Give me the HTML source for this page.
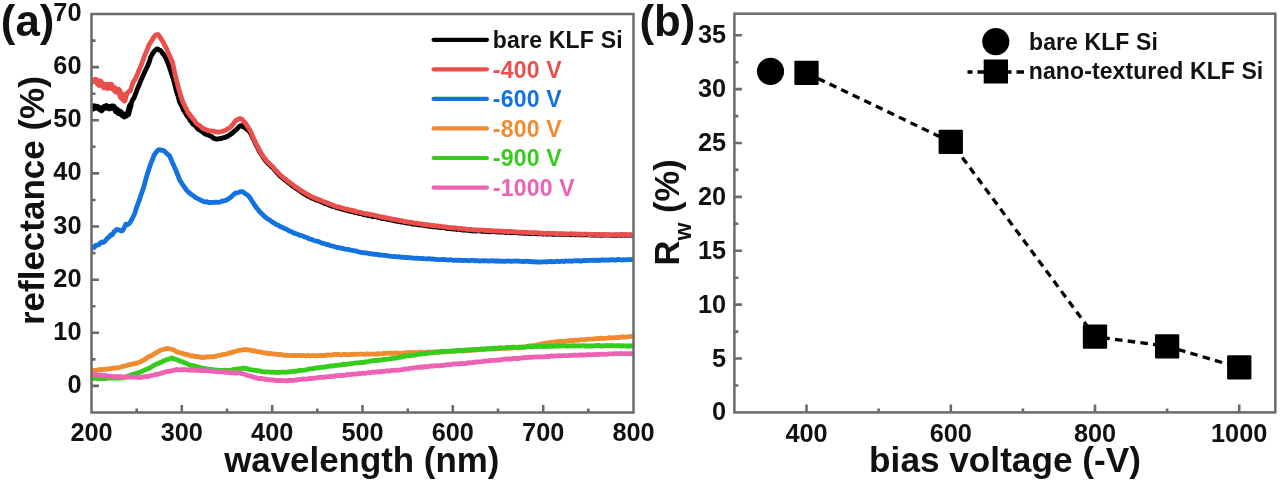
<!DOCTYPE html>
<html><head><meta charset="utf-8"><style>
html,body{margin:0;padding:0;background:#fff;overflow:hidden;}
svg{display:block;filter:blur(0.6px);}
text{font-family:"Liberation Sans",sans-serif;font-weight:bold;}
</style></head><body>
<svg width="1280" height="483" viewBox="0 0 1280 483">
<rect width="1280" height="483" fill="#fff"/>
<defs><clipPath id="ca"><rect x="91.5" y="14.0" width="542.0" height="398.5"/></clipPath></defs>
<g clip-path="url(#ca)" fill="none" stroke-linejoin="round" stroke-linecap="round">
<path d="M91.4 370.6 L92.9 370.7 L94.4 370.4 L95.9 370.3 L97.4 370.2 L98.9 369.7 L100.4 369.5 L101.9 369.8 L103.4 369.3 L104.9 369.1 L106.4 369.4 L107.9 368.9 L109.4 368.9 L110.9 368.5 L112.4 368.4 L113.9 367.9 L115.4 368.0 L116.9 368.0 L118.4 367.6 L119.9 367.4 L121.4 367.0 L122.9 366.2 L124.4 366.2 L125.9 365.7 L127.4 365.2 L128.9 364.6 L130.4 364.7 L131.9 364.1 L133.4 363.8 L134.9 363.6 L136.4 363.1 L137.9 362.8 L139.4 362.1 L140.9 361.7 L142.4 360.6 L143.9 360.0 L145.4 359.1 L146.9 357.8 L148.4 357.0 L149.9 356.2 L151.4 355.9 L152.9 354.7 L154.4 353.9 L155.9 352.8 L157.4 352.1 L158.9 351.1 L160.4 350.3 L161.9 349.9 L163.4 349.5 L164.9 349.2 L166.4 348.6 L167.9 348.5 L169.4 348.8 L170.9 349.2 L172.4 349.5 L173.9 349.9 L175.4 351.1 L176.9 351.9 L178.4 352.4 L179.9 352.7 L181.4 353.2 L182.9 353.3 L184.4 354.1 L185.9 354.4 L187.4 354.7 L188.9 355.0 L190.4 355.9 L191.9 356.2 L193.4 355.9 L194.9 356.5 L196.4 356.5 L197.9 356.6 L199.4 356.9 L200.9 357.4 L202.4 357.7 L203.9 357.1 L205.4 357.3 L206.9 356.8 L208.4 357.1 L209.9 356.7 L211.4 356.9 L212.9 356.8 L214.4 356.4 L215.9 356.4 L217.4 355.7 L218.9 355.3 L220.4 355.3 L221.9 354.6 L223.4 354.4 L224.9 354.3 L226.4 354.1 L227.9 353.5 L229.4 352.9 L230.9 352.9 L232.4 352.1 L233.9 352.0 L235.4 351.4 L236.9 350.8 L238.4 350.5 L239.9 350.3 L241.4 350.1 L242.9 349.8 L244.4 349.5 L245.9 349.6 L247.4 350.0 L248.9 350.0 L250.4 350.2 L251.9 350.6 L253.4 350.6 L254.9 351.0 L256.4 351.7 L257.9 351.7 L259.4 352.0 L260.9 352.0 L262.4 352.5 L263.9 352.9 L265.4 352.9 L266.9 353.4 L268.4 353.5 L269.9 353.3 L271.4 353.8 L272.9 353.9 L274.4 354.2 L275.9 354.1 L277.4 354.5 L278.9 354.7 L280.4 354.4 L281.9 354.6 L283.4 355.1 L284.9 355.4 L286.4 355.1 L287.9 355.4 L289.4 355.6 L290.9 355.5 L292.4 355.5 L293.9 355.5 L295.4 355.5 L296.9 355.7 L298.4 355.5 L299.9 355.5 L301.4 355.8 L302.9 355.3 L304.4 355.7 L305.9 355.8 L307.4 355.6 L308.9 355.5 L310.4 355.9 L311.9 355.6 L313.4 355.6 L314.9 355.7 L316.4 355.9 L317.9 355.6 L319.4 355.6 L320.9 355.5 L322.4 355.7 L323.9 355.4 L325.4 355.5 L326.9 355.0 L328.4 355.0 L329.9 355.1 L331.4 355.1 L332.9 354.7 L334.4 354.5 L335.9 354.4 L337.4 354.7 L338.9 354.4 L340.4 354.8 L341.9 354.8 L343.4 354.4 L344.9 354.4 L346.4 354.7 L347.9 354.6 L349.4 354.6 L350.9 354.3 L352.4 354.2 L353.9 354.3 L355.4 354.5 L356.9 354.2 L358.4 354.2 L359.9 354.2 L361.4 354.2 L362.9 354.2 L364.4 354.5 L365.9 354.0 L367.4 353.8 L368.9 354.3 L370.4 354.2 L371.9 354.2 L373.4 353.9 L374.9 354.1 L376.4 354.1 L377.9 353.6 L379.4 353.8 L380.9 353.8 L382.4 353.7 L383.9 353.5 L385.4 353.3 L386.9 353.3 L388.4 353.2 L389.9 353.1 L391.4 353.3 L392.9 353.1 L394.4 353.3 L395.9 352.8 L397.4 353.3 L398.9 353.1 L400.4 353.2 L401.9 353.2 L403.4 353.1 L404.9 352.9 L406.4 352.5 L407.9 352.9 L409.4 352.5 L410.9 352.5 L412.4 352.7 L413.9 352.6 L415.4 352.5 L416.9 352.8 L418.4 352.5 L419.9 352.3 L421.4 352.2 L422.9 352.5 L424.4 352.3 L425.9 352.4 L427.4 352.1 L428.9 352.0 L430.4 352.1 L431.9 352.3 L433.4 351.9 L434.9 352.2 L436.4 352.2 L437.9 352.1 L439.4 352.1 L440.9 351.6 L442.4 351.9 L443.9 351.9 L445.4 351.4 L446.9 351.4 L448.4 351.4 L449.9 351.4 L451.4 351.3 L452.9 351.3 L454.4 351.4 L455.9 350.8 L457.4 350.8 L458.9 350.8 L460.4 350.7 L461.9 350.6 L463.4 351.1 L464.9 350.9 L466.4 350.3 L467.9 350.5 L469.4 350.3 L470.9 350.2 L472.4 350.1 L473.9 350.2 L475.4 350.0 L476.9 349.8 L478.4 349.6 L479.9 349.6 L481.4 349.4 L482.9 349.5 L484.4 349.5 L485.9 349.2 L487.4 348.9 L488.9 348.9 L490.4 348.9 L491.9 349.0 L493.4 349.0 L494.9 348.6 L496.4 348.8 L497.9 348.6 L499.4 348.5 L500.9 348.4 L502.4 348.4 L503.9 348.4 L505.4 348.2 L506.9 348.3 L508.4 348.1 L509.9 347.9 L511.4 348.0 L512.9 348.0 L514.4 347.6 L515.9 347.7 L517.4 347.7 L518.9 347.9 L520.4 347.8 L521.9 347.2 L523.4 347.3 L524.9 347.0 L526.4 346.4 L527.9 346.3 L529.4 345.9 L530.9 346.0 L532.4 345.7 L533.9 345.6 L535.4 345.3 L536.9 344.9 L538.4 344.7 L539.9 344.3 L541.4 343.8 L542.9 343.8 L544.4 343.2 L545.9 343.1 L547.4 343.2 L548.9 342.6 L550.4 342.4 L551.9 342.3 L553.4 342.5 L554.9 341.9 L556.4 341.6 L557.9 341.9 L559.4 341.3 L560.9 341.5 L562.4 341.3 L563.9 341.3 L565.4 341.3 L566.9 340.9 L568.4 340.9 L569.9 340.4 L571.4 340.7 L572.9 340.4 L574.4 340.5 L575.9 340.0 L577.4 340.3 L578.9 340.3 L580.4 339.6 L581.9 339.7 L583.4 339.7 L584.9 339.8 L586.4 339.3 L587.9 339.2 L589.4 339.1 L590.9 339.2 L592.4 339.2 L593.9 338.8 L595.4 338.7 L596.9 338.7 L598.4 338.5 L599.9 338.5 L601.4 338.2 L602.9 338.3 L604.4 338.5 L605.9 338.1 L607.4 338.2 L608.9 337.7 L610.4 338.0 L611.9 337.9 L613.4 337.8 L614.9 337.6 L616.4 337.5 L617.9 337.5 L619.4 337.5 L620.9 337.0 L622.4 336.8 L623.9 337.1 L625.4 337.1 L626.9 336.8 L628.4 336.7 L629.9 336.7 L631.4 336.3 L632.9 336.3" stroke="#f08c30" stroke-width="4.8"/>
<path d="M91.4 378.2 L92.9 378.5 L94.4 378.3 L95.9 378.2 L97.4 378.5 L98.9 378.7 L100.4 378.3 L101.9 378.5 L103.4 378.3 L104.9 378.6 L106.4 378.4 L107.9 378.2 L109.4 378.1 L110.9 377.9 L112.4 378.2 L113.9 378.1 L115.4 377.9 L116.9 378.0 L118.4 377.9 L119.9 378.1 L121.4 377.6 L122.9 378.0 L124.4 377.5 L125.9 377.1 L127.4 376.4 L128.9 375.9 L130.4 375.3 L131.9 374.6 L133.4 374.1 L134.9 373.8 L136.4 373.4 L137.9 372.7 L139.4 372.5 L140.9 372.1 L142.4 371.1 L143.9 370.3 L145.4 369.6 L146.9 369.2 L148.4 368.5 L149.9 367.9 L151.4 367.0 L152.9 365.8 L154.4 365.1 L155.9 364.4 L157.4 363.6 L158.9 363.2 L160.4 362.5 L161.9 361.9 L163.4 360.8 L164.9 360.5 L166.4 359.7 L167.9 359.3 L169.4 359.0 L170.9 358.2 L172.4 358.0 L173.9 359.0 L175.4 359.2 L176.9 359.7 L178.4 360.4 L179.9 361.1 L181.4 361.3 L182.9 362.1 L184.4 362.7 L185.9 363.4 L187.4 363.8 L188.9 364.6 L190.4 365.4 L191.9 365.4 L193.4 365.9 L194.9 366.0 L196.4 366.5 L197.9 367.1 L199.4 367.1 L200.9 367.9 L202.4 368.3 L203.9 368.1 L205.4 368.8 L206.9 368.7 L208.4 369.2 L209.9 369.4 L211.4 369.3 L212.9 369.8 L214.4 370.0 L215.9 370.2 L217.4 370.0 L218.9 370.3 L220.4 370.5 L221.9 370.4 L223.4 370.4 L224.9 370.2 L226.4 370.5 L227.9 370.4 L229.4 370.4 L230.9 370.2 L232.4 369.9 L233.9 369.4 L235.4 369.4 L236.9 369.2 L238.4 368.7 L239.9 368.9 L241.4 368.5 L242.9 368.0 L244.4 368.5 L245.9 368.3 L247.4 368.8 L248.9 369.3 L250.4 369.6 L251.9 369.9 L253.4 370.2 L254.9 370.3 L256.4 370.5 L257.9 370.6 L259.4 370.8 L260.9 371.4 L262.4 371.7 L263.9 371.8 L265.4 372.1 L266.9 371.9 L268.4 371.9 L269.9 372.1 L271.4 372.4 L272.9 372.0 L274.4 372.4 L275.9 372.3 L277.4 372.7 L278.9 372.3 L280.4 372.3 L281.9 372.2 L283.4 372.2 L284.9 372.3 L286.4 372.0 L287.9 372.2 L289.4 371.7 L290.9 371.6 L292.4 371.3 L293.9 371.2 L295.4 371.4 L296.9 371.1 L298.4 370.6 L299.9 370.4 L301.4 370.3 L302.9 370.3 L304.4 370.1 L305.9 369.8 L307.4 369.5 L308.9 369.0 L310.4 368.9 L311.9 368.6 L313.4 368.5 L314.9 368.3 L316.4 367.9 L317.9 367.7 L319.4 367.8 L320.9 367.1 L322.4 367.4 L323.9 367.2 L325.4 367.1 L326.9 366.5 L328.4 366.4 L329.9 366.2 L331.4 366.0 L332.9 366.0 L334.4 365.7 L335.9 365.3 L337.4 365.4 L338.9 365.0 L340.4 364.9 L341.9 364.8 L343.4 364.2 L344.9 364.5 L346.4 364.3 L347.9 364.0 L349.4 363.8 L350.9 363.6 L352.4 363.3 L353.9 363.3 L355.4 362.8 L356.9 362.9 L358.4 362.9 L359.9 362.6 L361.4 362.5 L362.9 362.5 L364.4 362.3 L365.9 361.7 L367.4 361.9 L368.9 361.5 L370.4 361.0 L371.9 361.0 L373.4 360.7 L374.9 360.4 L376.4 360.5 L377.9 360.5 L379.4 359.9 L380.9 360.1 L382.4 359.8 L383.9 359.2 L385.4 359.5 L386.9 359.1 L388.4 359.1 L389.9 358.8 L391.4 358.6 L392.9 358.1 L394.4 358.2 L395.9 358.1 L397.4 357.8 L398.9 357.3 L400.4 357.3 L401.9 356.9 L403.4 356.4 L404.9 356.2 L406.4 355.9 L407.9 355.8 L409.4 355.5 L410.9 355.5 L412.4 355.4 L413.9 355.1 L415.4 354.8 L416.9 354.7 L418.4 354.2 L419.9 354.1 L421.4 354.1 L422.9 353.7 L424.4 353.4 L425.9 353.7 L427.4 353.4 L428.9 353.0 L430.4 352.9 L431.9 352.8 L433.4 352.7 L434.9 352.3 L436.4 352.0 L437.9 352.0 L439.4 352.1 L440.9 351.6 L442.4 351.7 L443.9 351.5 L445.4 351.4 L446.9 351.3 L448.4 351.3 L449.9 351.1 L451.4 350.9 L452.9 350.8 L454.4 350.8 L455.9 350.9 L457.4 350.5 L458.9 350.4 L460.4 350.5 L461.9 350.4 L463.4 350.5 L464.9 350.0 L466.4 350.1 L467.9 350.0 L469.4 349.7 L470.9 350.1 L472.4 349.6 L473.9 349.4 L475.4 349.6 L476.9 349.3 L478.4 349.4 L479.9 349.2 L481.4 348.9 L482.9 348.8 L484.4 349.1 L485.9 348.7 L487.4 348.9 L488.9 348.6 L490.4 348.8 L491.9 348.3 L493.4 348.2 L494.9 348.1 L496.4 348.4 L497.9 348.2 L499.4 347.9 L500.9 347.7 L502.4 348.0 L503.9 348.1 L505.4 347.8 L506.9 347.4 L508.4 347.3 L509.9 347.3 L511.4 347.3 L512.9 347.1 L514.4 347.1 L515.9 347.4 L517.4 347.5 L518.9 347.0 L520.4 347.4 L521.9 347.0 L523.4 347.1 L524.9 347.1 L526.4 347.1 L527.9 346.5 L529.4 346.6 L530.9 346.7 L532.4 346.9 L533.9 346.3 L535.4 346.4 L536.9 346.7 L538.4 346.2 L539.9 346.4 L541.4 346.3 L542.9 346.5 L544.4 346.6 L545.9 346.1 L547.4 346.4 L548.9 346.3 L550.4 346.4 L551.9 346.2 L553.4 346.4 L554.9 346.0 L556.4 346.0 L557.9 345.8 L559.4 346.1 L560.9 345.9 L562.4 345.8 L563.9 345.7 L565.4 346.0 L566.9 345.9 L568.4 346.0 L569.9 345.8 L571.4 345.9 L572.9 345.7 L574.4 346.0 L575.9 345.6 L577.4 345.8 L578.9 346.0 L580.4 345.9 L581.9 345.6 L583.4 345.7 L584.9 346.0 L586.4 345.9 L587.9 346.0 L589.4 346.0 L590.9 345.8 L592.4 346.0 L593.9 345.9 L595.4 345.7 L596.9 345.7 L598.4 345.5 L599.9 345.7 L601.4 346.1 L602.9 345.6 L604.4 345.8 L605.9 345.6 L607.4 345.5 L608.9 345.9 L610.4 345.6 L611.9 345.5 L613.4 345.6 L614.9 345.9 L616.4 345.9 L617.9 345.5 L619.4 345.6 L620.9 346.1 L622.4 345.6 L623.9 345.8 L625.4 345.8 L626.9 346.0 L628.4 345.9 L629.9 346.0 L631.4 345.8 L632.9 345.6" stroke="#36cc1c" stroke-width="4.8"/>
<path d="M91.4 374.0 L92.9 374.1 L94.4 374.7 L95.9 374.5 L97.4 374.6 L98.9 375.3 L100.4 375.1 L101.9 375.6 L103.4 375.3 L104.9 375.7 L106.4 375.7 L107.9 376.1 L109.4 376.1 L110.9 376.2 L112.4 376.4 L113.9 376.6 L115.4 376.4 L116.9 376.6 L118.4 376.6 L119.9 376.5 L121.4 377.0 L122.9 376.9 L124.4 377.0 L125.9 376.7 L127.4 377.0 L128.9 377.0 L130.4 377.2 L131.9 376.8 L133.4 377.0 L134.9 377.2 L136.4 377.0 L137.9 377.4 L139.4 377.6 L140.9 377.3 L142.4 377.2 L143.9 377.0 L145.4 376.5 L146.9 376.4 L148.4 376.5 L149.9 375.9 L151.4 375.7 L152.9 375.2 L154.4 374.9 L155.9 374.4 L157.4 374.4 L158.9 373.8 L160.4 373.5 L161.9 373.1 L163.4 372.4 L164.9 372.2 L166.4 371.6 L167.9 371.3 L169.4 371.3 L170.9 371.0 L172.4 370.7 L173.9 370.1 L175.4 370.0 L176.9 369.5 L178.4 369.7 L179.9 369.8 L181.4 369.5 L182.9 369.9 L184.4 369.5 L185.9 369.6 L187.4 370.0 L188.9 369.8 L190.4 370.0 L191.9 370.2 L193.4 369.9 L194.9 370.4 L196.4 370.2 L197.9 370.3 L199.4 370.4 L200.9 370.7 L202.4 370.7 L203.9 370.6 L205.4 370.5 L206.9 370.7 L208.4 370.9 L209.9 370.8 L211.4 370.9 L212.9 371.3 L214.4 371.4 L215.9 371.7 L217.4 371.8 L218.9 371.9 L220.4 371.7 L221.9 371.8 L223.4 372.0 L224.9 372.2 L226.4 372.4 L227.9 372.5 L229.4 372.5 L230.9 372.9 L232.4 372.6 L233.9 372.8 L235.4 373.1 L236.9 373.1 L238.4 372.9 L239.9 372.9 L241.4 373.7 L242.9 373.7 L244.4 374.2 L245.9 374.9 L247.4 375.4 L248.9 375.6 L250.4 376.0 L251.9 376.5 L253.4 377.2 L254.9 377.4 L256.4 378.0 L257.9 378.2 L259.4 378.6 L260.9 378.3 L262.4 378.7 L263.9 378.9 L265.4 379.4 L266.9 379.5 L268.4 379.5 L269.9 379.9 L271.4 379.8 L272.9 380.0 L274.4 380.2 L275.9 380.6 L277.4 380.5 L278.9 380.5 L280.4 380.3 L281.9 380.6 L283.4 380.7 L284.9 380.7 L286.4 380.8 L287.9 380.8 L289.4 380.4 L290.9 380.3 L292.4 380.5 L293.9 380.3 L295.4 380.0 L296.9 380.0 L298.4 379.6 L299.9 379.3 L301.4 379.1 L302.9 378.8 L304.4 379.1 L305.9 379.1 L307.4 378.9 L308.9 378.5 L310.4 378.5 L311.9 378.5 L313.4 378.3 L314.9 378.1 L316.4 377.8 L317.9 377.7 L319.4 377.4 L320.9 377.2 L322.4 377.4 L323.9 377.4 L325.4 377.0 L326.9 376.8 L328.4 376.6 L329.9 376.5 L331.4 376.5 L332.9 376.2 L334.4 376.3 L335.9 375.7 L337.4 375.6 L338.9 375.6 L340.4 375.4 L341.9 375.5 L343.4 375.4 L344.9 375.3 L346.4 374.9 L347.9 374.4 L349.4 374.6 L350.9 374.4 L352.4 374.3 L353.9 374.0 L355.4 374.1 L356.9 374.1 L358.4 373.4 L359.9 373.6 L361.4 373.3 L362.9 373.2 L364.4 373.3 L365.9 373.2 L367.4 372.9 L368.9 372.5 L370.4 372.8 L371.9 372.2 L373.4 372.2 L374.9 372.3 L376.4 371.9 L377.9 371.7 L379.4 372.0 L380.9 371.9 L382.4 371.4 L383.9 371.3 L385.4 371.1 L386.9 370.9 L388.4 370.8 L389.9 371.1 L391.4 370.4 L392.9 370.4 L394.4 370.3 L395.9 370.1 L397.4 370.1 L398.9 370.1 L400.4 369.9 L401.9 369.6 L403.4 369.5 L404.9 368.9 L406.4 368.8 L407.9 369.0 L409.4 368.3 L410.9 368.2 L412.4 368.2 L413.9 367.8 L415.4 367.8 L416.9 367.3 L418.4 367.2 L419.9 367.5 L421.4 366.9 L422.9 367.2 L424.4 366.6 L425.9 367.0 L427.4 366.7 L428.9 366.5 L430.4 366.1 L431.9 365.9 L433.4 366.2 L434.9 365.7 L436.4 365.6 L437.9 365.9 L439.4 365.8 L440.9 365.2 L442.4 365.6 L443.9 365.2 L445.4 365.0 L446.9 364.7 L448.4 364.7 L449.9 364.9 L451.4 364.4 L452.9 364.2 L454.4 364.0 L455.9 363.9 L457.4 363.9 L458.9 364.1 L460.4 363.5 L461.9 363.4 L463.4 363.7 L464.9 363.6 L466.4 363.4 L467.9 362.8 L469.4 362.7 L470.9 362.9 L472.4 362.5 L473.9 362.5 L475.4 362.1 L476.9 361.7 L478.4 361.8 L479.9 361.8 L481.4 361.7 L482.9 361.4 L484.4 361.2 L485.9 361.1 L487.4 360.8 L488.9 360.7 L490.4 360.8 L491.9 360.3 L493.4 360.4 L494.9 360.4 L496.4 360.3 L497.9 359.7 L499.4 360.1 L500.9 359.9 L502.4 359.4 L503.9 359.3 L505.4 359.1 L506.9 358.9 L508.4 359.3 L509.9 358.9 L511.4 359.0 L512.9 358.4 L514.4 358.3 L515.9 358.6 L517.4 358.5 L518.9 358.5 L520.4 358.2 L521.9 357.9 L523.4 357.9 L524.9 357.4 L526.4 357.6 L527.9 357.4 L529.4 357.1 L530.9 357.3 L532.4 357.1 L533.9 357.1 L535.4 356.9 L536.9 356.8 L538.4 356.8 L539.9 356.8 L541.4 357.0 L542.9 356.9 L544.4 356.8 L545.9 356.7 L547.4 356.3 L548.9 356.6 L550.4 356.1 L551.9 355.9 L553.4 356.1 L554.9 356.2 L556.4 355.8 L557.9 355.9 L559.4 355.7 L560.9 356.0 L562.4 355.6 L563.9 355.6 L565.4 355.6 L566.9 355.7 L568.4 355.7 L569.9 355.4 L571.4 355.3 L572.9 355.3 L574.4 355.0 L575.9 355.1 L577.4 355.3 L578.9 355.2 L580.4 354.7 L581.9 355.2 L583.4 354.8 L584.9 355.1 L586.4 354.7 L587.9 354.6 L589.4 354.7 L590.9 354.8 L592.4 354.5 L593.9 354.7 L595.4 354.6 L596.9 354.3 L598.4 354.2 L599.9 354.3 L601.4 354.2 L602.9 354.1 L604.4 354.3 L605.9 354.4 L607.4 354.1 L608.9 353.8 L610.4 353.8 L611.9 353.9 L613.4 354.0 L614.9 353.6 L616.4 353.6 L617.9 353.7 L619.4 353.6 L620.9 353.4 L622.4 353.6 L623.9 353.8 L625.4 353.6 L626.9 353.6 L628.4 353.6 L629.9 353.6 L631.4 353.6 L632.9 353.3" stroke="#ee62b4" stroke-width="4.8"/>
<path d="M91.3 248.8 L92.8 246.8 L94.3 247.4 L95.8 245.5 L97.3 244.8 L98.8 244.8 L100.3 242.9 L101.8 242.0 L103.3 242.5 L104.8 241.3 L106.3 239.5 L107.8 237.8 L109.3 236.9 L110.8 234.7 L112.3 234.9 L113.8 232.1 L115.3 230.7 L116.8 229.5 L118.3 230.0 L119.8 230.2 L121.3 231.0 L122.8 230.5 L124.3 227.5 L125.8 224.2 L127.3 224.8 L128.8 223.8 L130.3 222.1 L131.8 219.5 L133.3 216.5 L134.8 213.3 L136.3 208.2 L137.8 204.2 L139.3 200.2 L140.8 195.6 L142.3 191.3 L143.8 186.7 L145.3 181.2 L146.8 176.0 L148.3 170.9 L149.8 166.4 L151.3 162.3 L152.8 158.6 L154.3 154.7 L155.8 152.8 L157.3 150.7 L158.8 149.7 L160.3 149.9 L161.8 150.4 L163.3 150.5 L164.8 151.5 L166.3 152.9 L167.8 154.5 L169.3 155.5 L170.8 158.6 L172.3 162.4 L173.8 165.6 L175.3 169.0 L176.8 172.5 L178.3 176.3 L179.8 180.3 L181.3 182.4 L182.8 184.8 L184.3 187.0 L185.8 189.0 L187.3 191.1 L188.8 192.4 L190.3 193.6 L191.8 194.8 L193.3 195.7 L194.8 196.9 L196.3 197.9 L197.8 198.6 L199.3 199.3 L200.8 200.4 L202.3 200.8 L203.8 201.6 L205.3 202.0 L206.8 201.7 L208.3 202.5 L209.8 202.4 L211.3 202.5 L212.8 202.4 L214.3 202.2 L215.8 202.4 L217.3 202.2 L218.8 202.3 L220.3 202.0 L221.8 201.2 L223.3 201.0 L224.8 200.6 L226.3 200.1 L227.8 199.4 L229.3 198.2 L230.8 197.2 L232.3 195.8 L233.8 194.4 L235.3 193.2 L236.8 192.9 L238.3 192.5 L239.8 191.9 L241.3 191.7 L242.8 191.7 L244.3 193.0 L245.8 194.0 L247.3 194.8 L248.8 196.2 L250.3 198.3 L251.8 200.7 L253.3 203.1 L254.8 205.4 L256.3 207.6 L257.8 209.3 L259.3 211.3 L260.8 212.9 L262.3 214.2 L263.8 215.8 L265.3 217.1 L266.8 218.4 L268.3 219.3 L269.8 220.0 L271.3 221.3 L272.8 222.4 L274.3 223.0 L275.8 224.4 L277.3 224.8 L278.8 225.5 L280.3 226.6 L281.8 227.1 L283.3 228.0 L284.8 228.6 L286.3 229.1 L287.8 230.0 L289.3 231.0 L290.8 231.5 L292.3 232.2 L293.8 233.1 L295.3 233.4 L296.8 234.0 L298.3 234.6 L299.8 235.3 L301.3 235.5 L302.8 236.0 L304.3 236.9 L305.8 237.3 L307.3 237.7 L308.8 238.6 L310.3 239.1 L311.8 239.5 L313.3 240.2 L314.8 240.7 L316.3 241.2 L317.8 241.4 L319.3 241.8 L320.8 242.7 L322.3 243.2 L323.8 243.5 L325.3 244.0 L326.8 244.5 L328.3 244.7 L329.8 245.5 L331.3 245.8 L332.8 246.2 L334.3 246.5 L335.8 247.2 L337.3 247.4 L338.8 247.9 L340.3 247.9 L341.8 248.4 L343.3 248.5 L344.8 249.0 L346.3 249.4 L347.8 249.4 L349.3 249.7 L350.8 250.2 L352.3 250.4 L353.8 250.8 L355.3 250.9 L356.8 251.2 L358.3 251.7 L359.8 252.2 L361.3 252.5 L362.8 252.6 L364.3 252.8 L365.8 252.8 L367.3 253.1 L368.8 253.3 L370.3 253.9 L371.8 253.6 L373.3 254.3 L374.8 254.2 L376.3 254.4 L377.8 254.5 L379.3 255.1 L380.8 254.8 L382.3 255.2 L383.8 255.4 L385.3 255.3 L386.8 255.5 L388.3 256.2 L389.8 256.2 L391.3 256.4 L392.8 256.7 L394.3 256.3 L395.8 256.8 L397.3 256.9 L398.8 256.7 L400.3 257.0 L401.8 257.4 L403.3 257.1 L404.8 257.5 L406.3 257.3 L407.8 257.7 L409.3 257.6 L410.8 257.8 L412.3 257.8 L413.8 258.2 L415.3 258.3 L416.8 258.2 L418.3 258.4 L419.8 258.4 L421.3 258.7 L422.8 258.5 L424.3 258.7 L425.8 258.8 L427.3 258.8 L428.8 258.6 L430.3 258.8 L431.8 259.1 L433.3 259.0 L434.8 259.4 L436.3 259.3 L437.8 259.6 L439.3 259.6 L440.8 259.6 L442.3 259.5 L443.8 259.4 L445.3 259.7 L446.8 259.9 L448.3 260.1 L449.8 259.7 L451.3 259.8 L452.8 260.3 L454.3 260.3 L455.8 260.2 L457.3 260.4 L458.8 260.1 L460.3 260.4 L461.8 260.5 L463.3 260.5 L464.8 260.3 L466.3 260.3 L467.8 260.6 L469.3 260.8 L470.8 260.4 L472.3 260.4 L473.8 260.4 L475.3 260.9 L476.8 260.7 L478.3 260.7 L479.8 261.1 L481.3 260.9 L482.8 260.7 L484.3 261.0 L485.8 260.6 L487.3 260.8 L488.8 261.1 L490.3 260.8 L491.8 260.7 L493.3 261.0 L494.8 260.9 L496.3 261.3 L497.8 260.8 L499.3 261.3 L500.8 261.0 L502.3 261.3 L503.8 261.1 L505.3 261.3 L506.8 261.1 L508.3 261.0 L509.8 261.2 L511.3 261.4 L512.8 261.1 L514.3 261.1 L515.8 261.2 L517.3 261.0 L518.8 261.2 L520.3 261.4 L521.8 261.4 L523.3 261.5 L524.8 261.3 L526.3 261.2 L527.8 261.3 L529.3 261.5 L530.8 261.5 L532.3 261.8 L533.8 261.6 L535.3 262.0 L536.8 261.9 L538.3 262.0 L539.8 262.1 L541.3 262.0 L542.8 261.9 L544.3 261.8 L545.8 261.6 L547.3 262.0 L548.8 261.7 L550.3 261.4 L551.8 261.9 L553.3 261.6 L554.8 261.6 L556.3 261.5 L557.8 261.2 L559.3 261.7 L560.8 261.2 L562.3 261.2 L563.8 261.6 L565.3 261.0 L566.8 261.2 L568.3 261.1 L569.8 260.9 L571.3 261.3 L572.8 261.0 L574.3 260.7 L575.8 260.9 L577.3 260.6 L578.8 260.9 L580.3 261.0 L581.8 261.0 L583.3 260.4 L584.8 260.7 L586.3 260.5 L587.8 260.5 L589.3 260.4 L590.8 260.3 L592.3 260.2 L593.8 260.4 L595.3 260.1 L596.8 260.6 L598.3 260.0 L599.8 260.5 L601.3 260.0 L602.8 259.8 L604.3 260.2 L605.8 260.0 L607.3 260.1 L608.8 260.0 L610.3 260.0 L611.8 259.7 L613.3 260.0 L614.8 259.9 L616.3 260.1 L617.8 259.5 L619.3 259.5 L620.8 259.9 L622.3 260.0 L623.8 259.7 L625.3 259.8 L626.8 259.7 L628.3 259.6 L629.8 259.6 L631.3 259.7 L632.8 259.3" stroke="#1272df" stroke-width="4.8"/>
<path d="M92.0 106.4 L93.2 108.3 L94.4 106.5 L95.6 107.5 L96.8 106.8 L98.0 107.3 L99.2 108.6 L100.4 109.1 L101.6 110.1 L102.8 108.3 L104.0 107.1 L105.2 107.5 L106.4 106.2 L107.6 106.9 L108.8 108.1 L110.0 108.2 L111.2 106.8 L112.4 106.5 L113.6 106.8 L114.8 108.4 L116.0 110.9 L117.2 110.1 L118.4 112.8 L119.6 111.7 L120.8 112.5 L122.0 114.8 L123.2 114.4 L124.4 116.3 L125.6 115.7 L126.8 114.8 L128.0 114.2 L129.2 109.1 L130.4 105.5 L131.6 102.4 L132.8 99.3 L134.0 98.0 L135.2 94.7 L136.4 91.8 L137.6 88.4 L138.8 85.9 L140.0 82.7 L141.2 79.6 L142.4 77.1 L143.6 74.4 L144.8 71.7 L146.0 69.2 L147.2 66.8 L148.4 64.2 L149.6 60.9 L150.8 56.7 L152.0 54.8 L153.2 52.9 L154.4 51.0 L155.6 50.0 L156.8 48.9 L158.0 49.2 L159.2 50.2 L160.4 50.4 L161.6 51.8 L162.8 53.7 L164.0 54.9 L165.2 57.0 L166.4 59.6 L167.6 62.5 L168.8 65.6 L170.0 68.9 L171.2 72.9 L172.4 76.4 L173.6 80.0 L174.8 84.6 L176.0 89.7 L177.2 93.6 L178.4 97.4 L179.6 102.1 L180.8 104.2 L182.0 106.7 L183.2 109.6 L184.4 111.5 L185.6 113.3 L186.8 115.7 L188.0 116.9 L189.2 118.6 L190.4 120.9 L191.6 122.0 L192.8 123.9 L194.0 124.7 L195.2 125.9 L196.4 127.1 L197.6 128.6 L198.8 129.6 L200.0 130.2 L201.2 131.1 L202.4 131.7 L203.6 132.9 L204.8 133.7 L206.0 134.2 L207.2 134.9 L208.4 135.0 L209.6 135.8 L210.8 136.3 L212.0 136.8 L213.2 138.0 L214.4 138.5 L215.6 139.0 L216.8 139.2 L218.0 138.9 L219.2 138.9 L220.4 138.2 L221.6 138.6 L222.8 137.8 L224.0 137.5 L225.2 137.6 L226.4 136.4 L227.6 136.4 L228.8 135.3 L230.0 135.0 L231.2 133.6 L232.4 133.3 L233.6 131.8 L234.8 130.8 L236.0 130.0 L237.2 128.8 L238.4 127.4 L239.6 126.1 L240.8 125.6 L242.0 125.7 L243.2 127.0 L244.4 127.3 L245.6 128.1 L246.8 129.3 L248.0 130.1 L249.2 131.3 L250.4 133.1 L251.6 135.4 L252.8 137.9 L254.0 140.3 L255.2 142.9 L256.4 145.5 L257.6 147.5 L258.8 150.2 L260.0 152.3 L261.2 154.0 L262.4 155.8 L263.6 158.0 L264.8 159.6 L266.0 161.2 L267.2 162.5 L268.4 163.9 L269.6 164.8 L270.8 166.0 L272.0 167.2 L273.2 168.3 L274.4 169.8 L275.6 171.1 L276.8 172.5 L278.0 173.8 L279.2 175.1 L280.4 176.4 L281.6 177.1 L282.8 178.5 L284.0 179.0 L285.2 180.3 L286.4 180.9 L287.6 182.2 L288.8 182.9 L290.0 183.8 L291.2 184.9 L292.4 185.9 L293.6 186.7 L294.8 187.6 L296.0 188.5 L297.2 188.9 L298.4 189.9 L299.6 190.6 L300.8 191.8 L302.0 192.4 L303.2 193.2 L304.4 194.0 L305.6 194.8 L306.8 195.4 L308.0 196.2 L309.2 196.7 L310.4 197.2 L311.6 198.2 L312.8 198.3 L314.0 198.8 L315.2 199.7 L316.4 199.9 L317.6 200.5 L318.8 200.7 L320.0 201.3 L321.2 202.0 L322.4 202.2 L323.6 202.9 L324.8 203.6 L326.0 203.7 L327.2 204.4 L328.4 204.9 L329.6 205.3 L330.8 205.8 L332.0 206.3 L333.2 206.3 L334.4 206.7 L335.6 207.3 L336.8 207.8 L338.0 207.8 L339.2 208.4 L340.4 208.5 L341.6 209.2 L342.8 209.3 L344.0 209.7 L345.2 210.0 L346.4 210.1 L347.6 210.7 L348.8 211.0 L350.0 211.3 L351.2 211.3 L352.4 211.6 L353.6 211.9 L354.8 212.5 L356.0 212.6 L357.2 212.9 L358.4 213.2 L359.6 213.6 L360.8 213.7 L362.0 214.0 L363.2 214.5 L364.4 214.8 L365.6 214.8 L366.8 214.9 L368.0 215.6 L369.2 215.7 L370.4 215.9 L371.6 216.0 L372.8 216.6 L374.0 216.5 L375.2 216.7 L376.4 216.9 L377.6 217.2 L378.8 217.6 L380.0 217.7 L381.2 218.3 L382.4 218.4 L383.6 218.5 L384.8 218.8 L386.0 219.0 L387.2 219.3 L388.4 219.5 L389.6 219.7 L390.8 219.9 L392.0 220.3 L393.2 220.3 L394.4 220.8 L395.6 220.8 L396.8 221.3 L398.0 221.2 L399.2 221.6 L400.4 221.8 L401.6 222.2 L402.8 222.2 L404.0 222.4 L405.2 222.6 L406.4 223.0 L407.6 223.1 L408.8 223.0 L410.0 223.3 L411.2 223.5 L412.4 224.1 L413.6 224.0 L414.8 224.2 L416.0 224.3 L417.2 224.6 L418.4 224.9 L419.6 225.0 L420.8 224.8 L422.0 225.2 L423.2 225.4 L424.4 225.4 L425.6 225.9 L426.8 225.8 L428.0 226.0 L429.2 226.3 L430.4 226.4 L431.6 226.5 L432.8 226.8 L434.0 226.8 L435.2 226.9 L436.4 226.9 L437.6 227.3 L438.8 227.3 L440.0 227.5 L441.2 227.6 L442.4 227.6 L443.6 227.7 L444.8 227.9 L446.0 228.0 L447.2 228.5 L448.4 228.5 L449.6 228.4 L450.8 228.8 L452.0 228.9 L453.2 228.7 L454.4 229.2 L455.6 229.0 L456.8 229.5 L458.0 229.2 L459.2 229.4 L460.4 229.5 L461.6 229.9 L462.8 230.0 L464.0 230.0 L465.2 229.9 L466.4 230.1 L467.6 230.4 L468.8 230.2 L470.0 230.7 L471.2 230.8 L472.4 231.0 L473.6 230.9 L474.8 230.9 L476.0 231.2 L477.2 230.9 L478.4 230.9 L479.6 230.9 L480.8 231.0 L482.0 231.4 L483.2 231.1 L484.4 231.4 L485.6 231.3 L486.8 231.6 L488.0 231.6 L489.2 231.6 L490.4 231.8 L491.6 231.4 L492.8 231.6 L494.0 231.7 L495.2 231.8 L496.4 231.9 L497.6 232.1 L498.8 232.1 L500.0 232.2 L501.2 232.2 L502.4 232.1 L503.6 232.2 L504.8 232.4 L506.0 232.5 L507.2 232.3 L508.4 232.3 L509.6 232.5 L510.8 232.4 L512.0 232.8 L513.2 232.4 L514.4 232.7 L515.6 232.7 L516.8 232.6 L518.0 232.9 L519.2 232.9 L520.4 233.2 L521.6 233.2 L522.8 233.1 L524.0 233.3 L525.2 233.3 L526.4 233.0 L527.6 233.4 L528.8 233.5 L530.0 233.6 L531.2 233.5 L532.4 233.4 L533.6 233.4 L534.8 233.6 L536.0 233.5 L537.2 233.8 L538.4 233.8 L539.6 233.9 L540.8 233.7 L542.0 233.7 L543.2 234.1 L544.4 234.0 L545.6 233.9 L546.8 234.0 L548.0 234.0 L549.2 234.1 L550.4 234.1 L551.6 234.0 L552.8 234.4 L554.0 234.3 L555.2 234.3 L556.4 234.1 L557.6 234.1 L558.8 234.4 L560.0 234.4 L561.2 234.4 L562.4 234.2 L563.6 234.5 L564.8 234.4 L566.0 234.4 L567.2 234.5 L568.4 234.5 L569.6 234.6 L570.8 234.7 L572.0 234.8 L573.2 234.4 L574.4 234.7 L575.6 234.9 L576.8 234.7 L578.0 234.7 L579.2 234.9 L580.4 234.5 L581.6 234.9 L582.8 234.8 L584.0 234.8 L585.2 234.7 L586.4 234.9 L587.6 234.7 L588.8 234.9 L590.0 234.8 L591.2 235.1 L592.4 235.1 L593.6 235.0 L594.8 235.1 L596.0 235.0 L597.2 235.1 L598.4 234.9 L599.6 235.3 L600.8 235.2 L602.0 235.3 L603.2 234.9 L604.4 235.3 L605.6 234.9 L606.8 235.2 L608.0 235.2 L609.2 235.0 L610.4 235.2 L611.6 235.4 L612.8 235.3 L614.0 235.1 L615.2 235.4 L616.4 235.1 L617.6 235.4 L618.8 235.2 L620.0 235.0 L621.2 235.4 L622.4 235.0 L623.6 235.1 L624.8 235.3 L626.0 235.0 L627.2 235.2 L628.4 235.4 L629.6 235.2 L630.8 235.1 L632.0 235.3" stroke="#000" stroke-width="4.8"/>
<path d="M92.0 106.4 L93.2 108.3 L94.4 106.5 L95.6 107.5 L96.8 106.8 L98.0 107.3 L99.2 108.6 L100.4 109.1 L101.6 110.1 L102.8 108.3 L104.0 107.1 L105.2 107.5 L106.4 106.2 L107.6 106.9 L108.8 108.1 L110.0 108.2 L111.2 106.8 L112.4 106.5 L113.6 106.8 L114.8 108.4 L116.0 110.9 L117.2 110.1 L118.4 112.8 L119.6 111.7 L120.8 112.5 L122.0 114.8 L123.2 114.4 L124.4 116.3 L125.6 115.7 L126.8 114.8 L128.0 114.2 L129.2 109.1 L130.4 105.5" stroke="#000" stroke-width="6.2"/>
<path d="M92.0 81.2 L93.2 80.5 L94.4 80.9 L95.6 80.0 L96.8 80.6 L98.0 83.6 L99.2 84.6 L100.4 81.7 L101.6 83.6 L102.8 84.5 L104.0 87.1 L105.2 85.0 L106.4 85.1 L107.6 87.7 L108.8 84.8 L110.0 87.5 L111.2 84.9 L112.4 87.6 L113.6 89.2 L114.8 88.6 L116.0 91.3 L117.2 90.2 L118.4 89.9 L119.6 91.4 L120.8 96.5 L122.0 98.1 L123.2 98.8 L124.4 100.3 L125.6 94.8 L126.8 94.3 L128.0 92.1 L129.2 91.4 L130.4 90.9 L131.6 86.8 L132.8 82.9 L134.0 80.7 L135.2 79.4 L136.4 76.3 L137.6 74.0 L138.8 70.5 L140.0 68.1 L141.2 64.9 L142.4 62.0 L143.6 58.5 L144.8 55.2 L146.0 52.3 L147.2 49.6 L148.4 46.2 L149.6 44.0 L150.8 42.2 L152.0 40.1 L153.2 38.2 L154.4 36.4 L155.6 34.9 L156.8 34.9 L158.0 34.4 L159.2 35.8 L160.4 37.8 L161.6 39.6 L162.8 41.6 L164.0 43.8 L165.2 46.2 L166.4 48.4 L167.6 51.5 L168.8 53.8 L170.0 56.7 L171.2 59.5 L172.4 61.8 L173.6 67.5 L174.8 72.9 L176.0 78.2 L177.2 83.1 L178.4 87.7 L179.6 91.8 L180.8 95.7 L182.0 99.4 L183.2 103.0 L184.4 105.0 L185.6 107.5 L186.8 110.0 L188.0 112.7 L189.2 113.7 L190.4 115.9 L191.6 116.6 L192.8 118.9 L194.0 119.8 L195.2 121.8 L196.4 123.2 L197.6 124.3 L198.8 125.0 L200.0 126.1 L201.2 126.8 L202.4 128.3 L203.6 128.4 L204.8 129.5 L206.0 129.7 L207.2 129.8 L208.4 130.9 L209.6 130.9 L210.8 130.9 L212.0 131.1 L213.2 131.1 L214.4 131.4 L215.6 131.9 L216.8 132.2 L218.0 131.9 L219.2 132.0 L220.4 131.8 L221.6 131.5 L222.8 131.1 L224.0 130.9 L225.2 130.4 L226.4 129.9 L227.6 128.8 L228.8 128.5 L230.0 127.4 L231.2 126.3 L232.4 124.9 L233.6 123.5 L234.8 121.7 L236.0 120.4 L237.2 120.1 L238.4 119.0 L239.6 118.7 L240.8 118.6 L242.0 119.3 L243.2 121.0 L244.4 121.9 L245.6 123.6 L246.8 125.1 L248.0 127.2 L249.2 129.0 L250.4 130.9 L251.6 133.8 L252.8 136.6 L254.0 139.2 L255.2 141.8 L256.4 144.4 L257.6 146.7 L258.8 149.1 L260.0 151.0 L261.2 153.3 L262.4 155.0 L263.6 157.0 L264.8 158.3 L266.0 160.0 L267.2 161.6 L268.4 162.5 L269.6 163.9 L270.8 165.0 L272.0 166.1 L273.2 167.3 L274.4 168.7 L275.6 170.2 L276.8 171.3 L278.0 172.7 L279.2 173.8 L280.4 175.2 L281.6 176.1 L282.8 177.2 L284.0 178.2 L285.2 178.7 L286.4 180.1 L287.6 180.9 L288.8 181.7 L290.0 182.8 L291.2 183.5 L292.4 184.4 L293.6 185.5 L294.8 186.3 L296.0 187.3 L297.2 187.8 L298.4 188.6 L299.6 189.6 L300.8 190.5 L302.0 191.3 L303.2 191.8 L304.4 192.7 L305.6 193.4 L306.8 194.0 L308.0 194.9 L309.2 195.3 L310.4 196.3 L311.6 196.7 L312.8 197.1 L314.0 197.8 L315.2 198.3 L316.4 198.8 L317.6 199.1 L318.8 199.9 L320.0 200.3 L321.2 200.4 L322.4 200.9 L323.6 201.8 L324.8 202.0 L326.0 202.4 L327.2 202.9 L328.4 203.6 L329.6 203.8 L330.8 204.4 L332.0 205.0 L333.2 205.2 L334.4 205.8 L335.6 206.3 L336.8 206.6 L338.0 206.8 L339.2 207.2 L340.4 207.4 L341.6 207.9 L342.8 208.2 L344.0 208.5 L345.2 208.8 L346.4 209.2 L347.6 209.2 L348.8 209.8 L350.0 210.2 L351.2 210.0 L352.4 210.4 L353.6 211.1 L354.8 210.9 L356.0 211.6 L357.2 211.8 L358.4 211.8 L359.6 212.4 L360.8 212.4 L362.0 213.1 L363.2 213.1 L364.4 213.6 L365.6 213.9 L366.8 213.7 L368.0 214.1 L369.2 214.2 L370.4 214.8 L371.6 214.7 L372.8 214.9 L374.0 215.2 L375.2 215.8 L376.4 215.7 L377.6 216.0 L378.8 216.3 L380.0 216.6 L381.2 216.8 L382.4 217.3 L383.6 217.2 L384.8 217.5 L386.0 218.0 L387.2 217.9 L388.4 218.1 L389.6 218.7 L390.8 218.7 L392.0 219.2 L393.2 219.4 L394.4 219.4 L395.6 219.6 L396.8 219.7 L398.0 220.4 L399.2 220.4 L400.4 220.6 L401.6 220.7 L402.8 221.0 L404.0 221.5 L405.2 221.4 L406.4 221.8 L407.6 222.0 L408.8 222.1 L410.0 222.3 L411.2 222.4 L412.4 222.5 L413.6 223.0 L414.8 223.2 L416.0 223.2 L417.2 223.2 L418.4 223.7 L419.6 223.6 L420.8 223.7 L422.0 224.1 L423.2 224.4 L424.4 224.5 L425.6 224.4 L426.8 225.0 L428.0 224.7 L429.2 224.9 L430.4 225.4 L431.6 225.5 L432.8 225.6 L434.0 225.4 L435.2 225.9 L436.4 225.8 L437.6 225.8 L438.8 226.3 L440.0 226.5 L441.2 226.2 L442.4 226.6 L443.6 227.0 L444.8 226.8 L446.0 226.9 L447.2 227.3 L448.4 227.3 L449.6 227.7 L450.8 227.7 L452.0 227.8 L453.2 227.9 L454.4 227.7 L455.6 228.1 L456.8 228.2 L458.0 228.3 L459.2 228.4 L460.4 228.4 L461.6 228.5 L462.8 229.0 L464.0 228.8 L465.2 228.8 L466.4 229.4 L467.6 229.3 L468.8 229.5 L470.0 229.4 L471.2 229.4 L472.4 229.7 L473.6 230.0 L474.8 229.8 L476.0 230.2 L477.2 229.9 L478.4 230.3 L479.6 230.0 L480.8 230.2 L482.0 230.1 L483.2 230.1 L484.4 230.4 L485.6 230.4 L486.8 230.5 L488.0 230.4 L489.2 230.5 L490.4 230.6 L491.6 231.0 L492.8 230.6 L494.0 230.8 L495.2 231.1 L496.4 231.0 L497.6 230.9 L498.8 231.4 L500.0 231.0 L501.2 231.1 L502.4 231.1 L503.6 231.3 L504.8 231.6 L506.0 231.4 L507.2 231.4 L508.4 231.8 L509.6 231.5 L510.8 231.5 L512.0 231.9 L513.2 231.6 L514.4 231.9 L515.6 231.8 L516.8 232.1 L518.0 232.2 L519.2 232.1 L520.4 232.1 L521.6 232.3 L522.8 232.4 L524.0 232.1 L525.2 232.3 L526.4 232.4 L527.6 232.5 L528.8 232.5 L530.0 232.7 L531.2 232.6 L532.4 232.9 L533.6 232.7 L534.8 232.7 L536.0 232.7 L537.2 232.8 L538.4 232.9 L539.6 233.3 L540.8 233.1 L542.0 233.1 L543.2 233.4 L544.4 233.5 L545.6 233.4 L546.8 233.2 L548.0 233.2 L549.2 233.4 L550.4 233.3 L551.6 233.3 L552.8 233.3 L554.0 233.4 L555.2 233.6 L556.4 233.6 L557.6 233.6 L558.8 233.6 L560.0 233.7 L561.2 233.8 L562.4 233.5 L563.6 233.9 L564.8 233.8 L566.0 233.7 L567.2 234.1 L568.4 234.0 L569.6 233.8 L570.8 233.7 L572.0 233.9 L573.2 234.0 L574.4 234.0 L575.6 233.9 L576.8 234.1 L578.0 234.0 L579.2 234.3 L580.4 234.2 L581.6 234.1 L582.8 234.4 L584.0 234.2 L585.2 234.1 L586.4 234.2 L587.6 234.1 L588.8 234.3 L590.0 234.6 L591.2 234.7 L592.4 234.5 L593.6 234.3 L594.8 234.4 L596.0 234.4 L597.2 234.5 L598.4 234.7 L599.6 234.4 L600.8 234.7 L602.0 234.7 L603.2 234.8 L604.4 234.9 L605.6 234.7 L606.8 234.9 L608.0 234.7 L609.2 234.8 L610.4 234.9 L611.6 234.6 L612.8 234.8 L614.0 234.8 L615.2 234.6 L616.4 234.7 L617.6 235.0 L618.8 234.7 L620.0 234.6 L621.2 234.7 L622.4 234.8 L623.6 234.7 L624.8 234.7 L626.0 234.7 L627.2 234.7 L628.4 234.8 L629.6 234.8 L630.8 234.6 L632.0 234.8" stroke="#eb4f4c" stroke-width="4.8"/>
<path d="M92.0 81.2 L93.2 80.5 L94.4 80.9 L95.6 80.0 L96.8 80.6 L98.0 83.6 L99.2 84.6 L100.4 81.7 L101.6 83.6 L102.8 84.5 L104.0 87.1 L105.2 85.0 L106.4 85.1 L107.6 87.7 L108.8 84.8 L110.0 87.5 L111.2 84.9 L112.4 87.6 L113.6 89.2 L114.8 88.6 L116.0 91.3 L117.2 90.2 L118.4 89.9 L119.6 91.4 L120.8 96.5 L122.0 98.1 L123.2 98.8 L124.4 100.3 L125.6 94.8" stroke="#eb4f4c" stroke-width="6.2"/>
</g>
<rect x="91.5" y="14.0" width="542.0" height="398.5" fill="none" stroke="#6a6a6a" stroke-width="2.5"/>
<path d="M91.5 385.9 h7.5 M91.5 359.4 h4 M91.5 332.8 h7.5 M91.5 306.2 h4 M91.5 279.7 h7.5 M91.5 253.1 h4 M91.5 226.5 h7.5 M91.5 200.0 h4 M91.5 173.4 h7.5 M91.5 146.8 h4 M91.5 120.3 h7.5 M91.5 93.7 h4 M91.5 67.1 h7.5 M91.5 40.6 h4 M136.7 412.5 v-4 M181.8 412.5 v-7.5 M227.0 412.5 v-4 M272.2 412.5 v-7.5 M317.3 412.5 v-4 M362.5 412.5 v-7.5 M407.7 412.5 v-4 M452.8 412.5 v-7.5 M498.0 412.5 v-4 M543.2 412.5 v-7.5 M588.3 412.5 v-4" stroke="#6a6a6a" stroke-width="2.6" fill="none"/>
<g font-family="Liberation Sans, sans-serif" font-weight="bold" font-size="25.3" fill="#111"><text x="81.5" y="392.9" text-anchor="end">0</text><text x="81.5" y="339.8" text-anchor="end">10</text><text x="81.5" y="286.7" text-anchor="end">20</text><text x="81.5" y="233.5" text-anchor="end">30</text><text x="81.5" y="180.4" text-anchor="end">40</text><text x="81.5" y="127.3" text-anchor="end">50</text><text x="81.5" y="74.1" text-anchor="end">60</text><text x="81.5" y="21.0" text-anchor="end">70</text><text x="91.5" y="441.0" text-anchor="middle">200</text><text x="181.8" y="441.0" text-anchor="middle">300</text><text x="272.2" y="441.0" text-anchor="middle">400</text><text x="362.5" y="441.0" text-anchor="middle">500</text><text x="452.8" y="441.0" text-anchor="middle">600</text><text x="543.2" y="441.0" text-anchor="middle">700</text><text x="633.5" y="441.0" text-anchor="middle">800</text></g>
<text font-family="Liberation Sans, sans-serif" font-weight="bold" font-size="43.8" fill="#111" x="0.8" y="35.8">(a)</text>
<text font-family="Liberation Sans, sans-serif" font-weight="bold" font-size="34.9" fill="#111" x="361.8" y="472.4" text-anchor="middle">wavelength (nm)</text>
<text font-family="Liberation Sans, sans-serif" font-weight="bold" font-size="35" fill="#111" transform="translate(43.5 200.6) rotate(-90)" text-anchor="middle">reflectance (%)</text>
<path d="M433.6 39.80 H486.9" stroke="#000" stroke-width="4.2" stroke-linecap="round"/>
<text font-family="Liberation Sans, sans-serif" font-weight="bold" font-size="23" fill="#111" x="492.8" y="48.20" letter-spacing="0.2">bare KLF Si</text>
<path d="M433.6 69.35 H486.9" stroke="#eb4f4c" stroke-width="4.2" stroke-linecap="round"/>
<text font-family="Liberation Sans, sans-serif" font-weight="bold" font-size="23" fill="#eb4f4c" x="492.8" y="77.75" letter-spacing="0.2">-400 V</text>
<path d="M433.6 98.90 H486.9" stroke="#1272df" stroke-width="4.2" stroke-linecap="round"/>
<text font-family="Liberation Sans, sans-serif" font-weight="bold" font-size="23" fill="#1272df" x="492.8" y="107.30" letter-spacing="0.2">-600 V</text>
<path d="M433.6 128.45 H486.9" stroke="#f08c30" stroke-width="4.2" stroke-linecap="round"/>
<text font-family="Liberation Sans, sans-serif" font-weight="bold" font-size="23" fill="#f08c30" x="492.8" y="136.85" letter-spacing="0.2">-800 V</text>
<path d="M433.6 158.00 H486.9" stroke="#36cc1c" stroke-width="4.2" stroke-linecap="round"/>
<text font-family="Liberation Sans, sans-serif" font-weight="bold" font-size="23" fill="#36cc1c" x="492.8" y="166.40" letter-spacing="0.2">-900 V</text>
<path d="M433.6 187.55 H486.9" stroke="#ee62b4" stroke-width="4.2" stroke-linecap="round"/>
<text font-family="Liberation Sans, sans-serif" font-weight="bold" font-size="23" fill="#ee62b4" x="492.8" y="195.95" letter-spacing="0.2">-1000 V</text>
<rect x="734.4" y="13.7" width="540.9" height="398.7" fill="none" stroke="#6a6a6a" stroke-width="2.5"/>
<path d="M734.4 385.5 h4 M734.4 358.5 h7.5 M734.4 331.6 h4 M734.4 304.6 h7.5 M734.4 277.7 h4 M734.4 250.8 h7.5 M734.4 223.8 h4 M734.4 196.9 h7.5 M734.4 169.9 h4 M734.4 143.0 h7.5 M734.4 116.1 h4 M734.4 89.1 h7.5 M734.4 62.2 h4 M734.4 35.3 h7.5 M806.5 412.4 v-8 M878.6 412.4 v-4 M950.8 412.4 v-8 M1022.9 412.4 v-4 M1095.0 412.4 v-8 M1167.1 412.4 v-4 M1239.2 412.4 v-8" stroke="#6a6a6a" stroke-width="2.6" fill="none"/>
<g font-family="Liberation Sans, sans-serif" font-weight="bold" font-size="25.3" fill="#111"><text x="726.1" y="420.4" text-anchor="end">0</text><text x="726.1" y="366.5" text-anchor="end">5</text><text x="726.1" y="312.6" text-anchor="end">10</text><text x="726.1" y="258.8" text-anchor="end">15</text><text x="726.1" y="204.9" text-anchor="end">20</text><text x="726.1" y="151.0" text-anchor="end">25</text><text x="726.1" y="97.1" text-anchor="end">30</text><text x="726.1" y="43.3" text-anchor="end">35</text><text x="806.5" y="441.5" text-anchor="middle">400</text><text x="950.8" y="441.5" text-anchor="middle">600</text><text x="1095.0" y="441.5" text-anchor="middle">800</text><text x="1239.2" y="441.5" text-anchor="middle">1000</text></g>
<text font-family="Liberation Sans, sans-serif" font-weight="bold" font-size="43.8" fill="#111" x="639.5" y="35.8">(b)</text>
<text font-family="Liberation Sans, sans-serif" font-weight="bold" font-size="35.2" fill="#111" x="1005" y="471.6" text-anchor="middle">bias voltage (-V)</text>
<text font-family="Liberation Sans, sans-serif" font-weight="bold" font-size="34.6" fill="#111" transform="translate(678.5 212.4) rotate(-90)" text-anchor="middle">R<tspan font-size="23" dy="12">w</tspan><tspan dy="-12"> (%)</tspan></text>
<path d="M806.5 73.0 L950.8 141.9 L1095.0 336.6 L1167.1 346.3 L1239.2 367.5" stroke="#000" stroke-width="3.3" stroke-dasharray="7.5 5.3" fill="none"/>
<rect x="794.37" y="60.82" width="24.3" height="24.3" rx="1" fill="#000"/>
<rect x="938.61" y="129.78" width="24.3" height="24.3" rx="1" fill="#000"/>
<rect x="1082.85" y="324.50" width="24.3" height="24.3" rx="1" fill="#000"/>
<rect x="1154.97" y="334.20" width="24.3" height="24.3" rx="1" fill="#000"/>
<rect x="1227.09" y="355.32" width="24.3" height="24.3" rx="1" fill="#000"/>
<circle cx="770.5" cy="71.3" r="13.6" fill="#000"/>
<circle cx="995.8" cy="41.6" r="13.6" fill="#000"/>
<path d="M967.5 72 H1024" stroke="#000" stroke-width="3.6" stroke-dasharray="8 5" stroke-dashoffset="3"/>
<rect x="983.7" y="59.5" width="24.3" height="24" fill="#000"/>
<text font-family="Liberation Sans, sans-serif" font-weight="bold" font-size="23" fill="#111" x="1029" y="49.6" letter-spacing="0.1">bare KLF Si</text>
<text font-family="Liberation Sans, sans-serif" font-weight="bold" font-size="23" fill="#111" x="1028.8" y="79.4" letter-spacing="0.1">nano-textured KLF Si</text>
</svg>
</body></html>
